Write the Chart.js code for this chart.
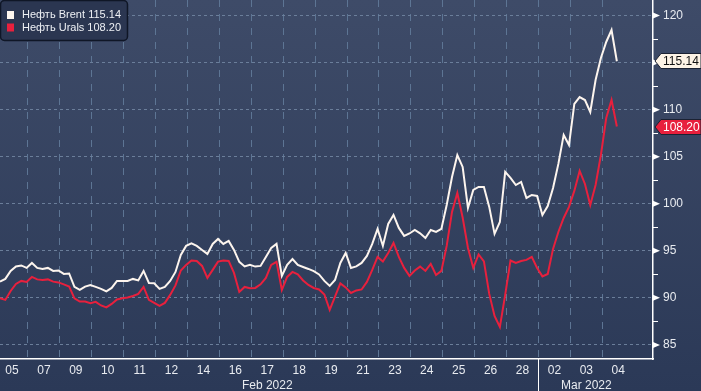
<!DOCTYPE html>
<html>
<head>
<meta charset="utf-8">
<script src="https://cdn.jsdelivr.net/npm/chart.js@4.4.0/dist/chart.umd.min.js"></script>
<style>
  html, body { margin: 0; padding: 0; background: #2c3a57; }
  #wrap { width: 701px; height: 391px; }
</style>
</head>
<body>
<div id="wrap"><canvas id="chart" width="701" height="391"></canvas></div>
<script>
// trading sessions on the axis (day of month), one label per session
const dayLabels = ['05', '07', '09', '10', '11', '12', '14', '16', '17', '18',
                   '19', '21', '23', '24', '25', '26', '28', '02', '03', '04'];
const monthLabels = ['Feb 2022', 'Mar 2022'];
const monthTickIndex = [8, 18];
const monthSplit = 16.5; // between 28 Feb and 02 Mar
const yTicks = [85, 90, 95, 100, 105, 110, 115, 120];

// intraday prices, 6 samples per session
const sampleStart = -0.376;
const sampleStep = 1 / 6;

const brent = [
    91.72, 92.01, 92.86, 93.34, 93.44, 93.18, 93.71, 93.18, 93.07, 93.18,
    92.86, 92.91, 92.54, 92.59, 91.16, 90.84, 91.19, 91.37, 91.16, 90.95,
    90.68, 91.05, 91.80, 91.80, 91.80, 92.01, 91.85, 92.86, 91.58, 91.55,
    90.95, 91.16, 91.80, 92.75, 94.56, 95.52, 95.78, 95.52, 95.09, 94.67,
    95.73, 96.26, 95.73, 96.05, 95.09, 93.82, 93.34, 93.50, 93.32, 93.39,
    94.35, 95.30, 95.73, 92.33, 93.50, 94.13, 93.50, 93.28, 93.07, 92.83,
    92.49, 91.80, 91.27, 91.90, 93.71, 94.77, 93.18, 93.34, 93.71, 94.45,
    95.73, 97.32, 95.52, 97.85, 98.81, 97.43, 96.58, 96.84, 97.21, 96.86,
    96.36, 97.21, 97.00, 97.32, 99.87, 102.84, 105.18, 103.91, 99.55, 101.46,
    101.78, 101.78, 99.66, 96.80, 98.06, 103.38, 102.74, 101.99, 102.31, 100.61,
    100.93, 100.83, 98.81, 99.76, 101.68, 104.23, 107.31, 106.24, 110.60, 111.34,
    111.02, 109.75, 113.15, 115.49, 117.19, 118.46, 115.14
];
const urals = [
    89.96, 89.78, 90.73, 91.48, 91.80, 91.69, 92.22, 91.96, 91.90, 91.96,
    91.72, 91.64, 91.43, 91.21, 89.94, 89.60, 89.60, 89.43, 89.57, 89.19,
    88.98, 89.35, 89.83, 89.96, 90.04, 90.20, 90.42, 91.16, 89.78, 89.46,
    89.14, 89.46, 90.31, 91.32, 92.91, 93.50, 93.97, 93.92, 93.39, 92.12,
    92.97, 93.85, 93.97, 93.92, 92.65, 90.63, 91.16, 91.02, 91.05, 91.43,
    92.12, 93.50, 93.82, 90.84, 92.22, 92.75, 92.49, 91.85, 91.37, 91.05,
    90.89, 90.36, 88.72, 90.13, 91.53, 91.11, 90.52, 90.79, 90.89, 91.69,
    92.97, 94.35, 93.87, 94.77, 95.83, 94.35, 93.18, 92.33, 92.91, 93.32,
    92.86, 93.60, 92.43, 92.86, 95.52, 99.13, 101.14, 98.54, 95.30, 93.18,
    94.61, 93.87, 90.42, 88.08, 86.91, 90.31, 93.97, 93.71, 93.92, 94.03,
    94.35, 93.18, 92.28, 92.54, 95.20, 97.00, 98.49, 99.66, 101.36, 103.48,
    102.10, 99.87, 101.99, 105.18, 109.11, 111.02, 108.20
];

const font = "'Liberation Sans', Arial, sans-serif";
const brentColor = '#fdf5ee';
const uralsColor = '#e8203d';

const toPoints = (arr) => arr.map((v, i) => ({ x: sampleStart + i * sampleStep, y: v }));

// page background, a soft vertical gradient
const background = {
    id: 'background',
    beforeDraw(chart) {
        const { ctx, width, height } = chart;
        const g = ctx.createLinearGradient(0, 0, 0, height);
        g.addColorStop(0, '#3e4b68');
        g.addColorStop(1, '#2b3957');
        ctx.save();
        ctx.fillStyle = g;
        ctx.fillRect(0, 0, width, height);
        ctx.restore();
    }
};

// month divider, y tick arrows, last value badges and the legend box
const decorations = {
    id: 'decorations',
    afterDraw(chart) {
        const { ctx, chartArea, scales: { x, y } } = chart;
        ctx.save();

        const mx = Math.round(x.getPixelForValue(monthSplit)) + 0.5;
        ctx.strokeStyle = '#ffffff';
        ctx.lineWidth = 1;
        ctx.beginPath();
        ctx.moveTo(mx, chartArea.bottom);
        ctx.lineTo(mx, chart.height);
        ctx.stroke();

        const ax = chartArea.right;
        // minor ticks half way between the labelled ones
        yTicks.slice(1).forEach((v, i) => {
            const py = Math.round(y.getPixelForValue((v + yTicks[i]) / 2)) + 0.5;
            ctx.beginPath();
            ctx.moveTo(ax, py);
            ctx.lineTo(ax + 5, py);
            ctx.stroke();
        });
        ctx.fillStyle = '#ffffff';
        yTicks.forEach(v => {
            const py = y.getPixelForValue(v);
            ctx.beginPath();
            ctx.moveTo(ax, py - 3);
            ctx.lineTo(ax + 7, py);
            ctx.lineTo(ax, py + 3);
            ctx.closePath();
            ctx.fill();
        });

        // badges with the last value of each series
        ctx.font = '12px ' + font;
        ctx.textBaseline = 'middle';
        ctx.textAlign = 'left';
        chart.data.datasets.forEach((ds, i) => {
            const last = ds.data[ds.data.length - 1].y;
            const py = Math.round(y.getPixelForValue(last));
            ctx.beginPath();
            ctx.moveTo(ax + 2, py);
            ctx.lineTo(ax + 8, py - 7.5);
            ctx.lineTo(chart.width, py - 7.5);
            ctx.lineTo(chart.width, py + 7.5);
            ctx.lineTo(ax + 8, py + 7.5);
            ctx.closePath();
            ctx.fillStyle = i === 0 ? '#fdf3e6' : uralsColor;
            ctx.fill();
            ctx.strokeStyle = '#1b2233';
            ctx.lineWidth = 1;
            ctx.stroke();
            ctx.fillStyle = i === 0 ? '#111111' : '#ffffff';
            ctx.fillText(last.toFixed(2), ax + 10, py + 0.5);
        });

        // legend box in the top left corner
        ctx.beginPath();
        ctx.roundRect(0.5, 0.5, 127, 40, 4);
        ctx.fillStyle = '#2b3651';
        ctx.fill();
        ctx.strokeStyle = '#0f1626';
        ctx.lineWidth = 1.5;
        ctx.stroke();
        ctx.font = '11px ' + font;
        chart.data.datasets.forEach((ds, i) => {
            const cy = 15 + i * 12.5;
            ctx.fillStyle = ds.borderColor;
            ctx.fillRect(7, cy - 4, 7, 8);
            ctx.fillStyle = '#eef0f4';
            ctx.textAlign = 'left';
            ctx.fillText(ds.label, 22, cy);
            ctx.textAlign = 'right';
            ctx.fillText(ds.data[ds.data.length - 1].y.toFixed(2), 121, cy);
        });
        ctx.restore();
    }
};

new Chart(document.getElementById('chart'), {
    type: 'line',
    data: {
        datasets: [
            {
                label: 'Нефть Brent',
                data: toPoints(brent),
                borderColor: brentColor,
                borderWidth: 2,
                pointRadius: 0,
                tension: 0
            },
            {
                label: 'Нефть Urals',
                data: toPoints(urals),
                borderColor: uralsColor,
                borderWidth: 2,
                pointRadius: 0,
                tension: 0
            }
        ]
    },
    options: {
        responsive: false,
        animation: false,
        layout: { padding: 0, autoPadding: false },
        plugins: {
            legend: { display: false },
            tooltip: { enabled: false }
        },
        scales: {
            x: {
                type: 'linear',
                min: -0.376,
                max: 20.09,
                afterBuildTicks: s => { s.ticks = dayLabels.map((_, i) => ({ value: i })); },
                afterFit: s => { s.height = 32; s.paddingLeft = 0; s.paddingRight = 0; },
                ticks: {
                    autoSkip: false,
                    maxRotation: 0,
                    padding: 4,
                    color: '#e8ebf0',
                    font: { family: font, size: 12, lineHeight: 1.25 },
                    callback: (v, i) => {
                        const m = monthTickIndex.indexOf(i);
                        return m >= 0 ? [dayLabels[i], monthLabels[m]] : dayLabels[i];
                    }
                },
                grid: {
                    offset: true,
                    drawTicks: false,
                    color: ctx => ctx.type === 'tick' ? '#5d7594' : 'transparent',
                    lineWidth: 1
                },
                border: { color: '#ffffff', width: 1.5, dash: [7, 7] }
            },
            y: {
                position: 'right',
                min: 83.5,
                max: 121.65,
                afterBuildTicks: s => { s.ticks = yTicks.map(v => ({ value: v })); },
                afterFit: s => { s.width = 48; s.paddingTop = 0; s.paddingBottom = 0; },
                ticks: {
                    padding: 10,
                    color: '#e8ebf0',
                    font: { family: font, size: 12 }
                },
                grid: {
                    drawTicks: false,
                    color: '#6b7e9a',
                    lineWidth: 1
                },
                border: { color: '#ffffff', width: 1.5, dash: [3, 3] }
            }
        }
    },
    plugins: [background, decorations]
});
</script>
</body>
</html>
